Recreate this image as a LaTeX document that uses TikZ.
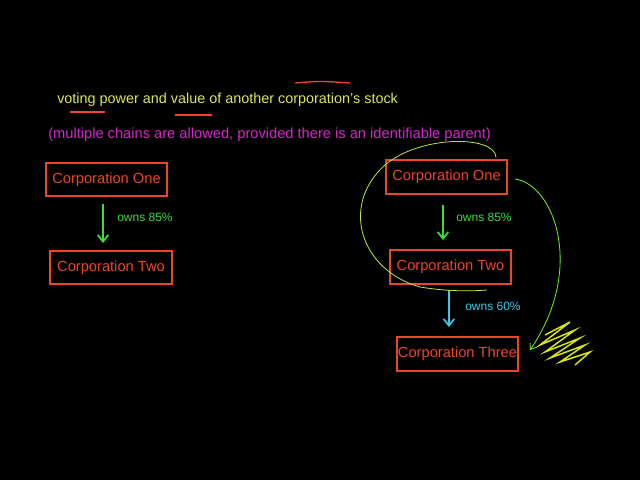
\documentclass[tikz,border=0pt]{standalone}
\usepackage{fontspec}
\setmainfont{Liberation Sans}
\usetikzlibrary{arrows.meta}
\definecolor{boxred}{RGB}{235,70,40}
\definecolor{ylw}{RGB}{220,230,90}
\definecolor{mag}{RGB}{210,40,200}
\definecolor{grn}{RGB}{60,220,60}
\definecolor{cyn}{RGB}{60,200,230}
\begin{document}
\begin{tikzpicture}[x=0.75pt,y=-0.75pt,
  corp/.style={draw=boxred,line width=1.4pt,text=boxred,minimum width=91pt,minimum height=25pt,font=\fontsize{11}{13}\selectfont,inner sep=0pt},
  arr/.style={-{Straight Barb[length=5pt,width=8pt]},line width=1.3pt},
  lbl/.style={font=\fontsize{9}{11}\selectfont,anchor=west,inner sep=0pt}]
\useasboundingbox[fill=black] (0,0) rectangle (640,480);
\node[text=ylw,anchor=west,inner sep=0pt,font=\fontsize{10.8}{13}\selectfont] (t1) at (57,100) {voting power and value of another corporation's stock};
\node[text=mag,anchor=west,inner sep=0pt,font=\fontsize{11}{13}\selectfont] (t2) at (48,135) {(multiple chains are allowed, provided there is an identifiable parent)};
\draw[boxred,line width=1pt] (70,112) -- (105,112);
\draw[boxred,line width=1pt] (175,115) -- (212,115);
\draw[boxred,line width=1pt] (295,83) .. controls (320,81) .. (350,83);
% left
\node[corp] (l1) at (106.5,179.5) {Corporation One};
\node[corp] (l2) at (111,267.5) {Corporation Two};
\draw[arr,grn] (103,204) -- (103,243);
\node[lbl,text=grn] (lt) at (117,217) {owns 85\%};
% right
\node[corp] (r1) at (446.5,177) {Corporation One};
\node[corp] (r2) at (450.5,267) {Corporation Two};
\node[corp] (r3) at (457.5,354) {Corporation Three};
\draw[arr,grn] (443,205) -- (443,240);
\node[lbl,text=grn] (rt1) at (456,217) {owns 85\%};
\draw[arr,cyn] (449,290) -- (449,327);
\node[lbl,text=cyn] (rt2) at (465,306) {owns 60\%};
% yellow loop
\draw[ylw!80!green,line width=0.6pt] (r1.north east) ++(-12,-2) .. controls (495,135) and (420,135) .. (385,165)
  .. controls (340,205) and (360,270) .. (420,287) .. controls (450,292) and (475,291) .. (487,290);
% green curve
\draw[ylw!50!green,line width=0.6pt,-{Straight Barb[length=4pt,width=6pt]}] (r1.east) ++(7,2) .. controls (555,185) and (585,270) .. (530,350);
% scribble
\draw[yellow!85!green,line width=1.1pt] (545,335) -- (570,322) -- (540,345) -- (575,330) -- (545,352) -- (580,338) -- (550,358) -- (585,345) -- (560,362) -- (590,352) -- (575,365);
\end{tikzpicture}
\end{document}
